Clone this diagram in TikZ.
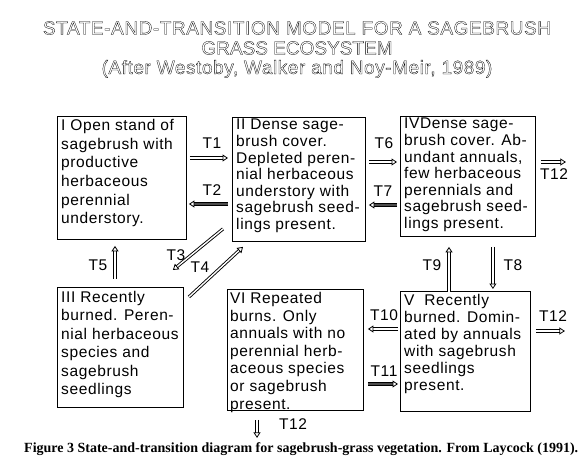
\documentclass[tikz,border=0pt]{standalone}
\usepackage{fontspec}
\setmainfont{Liberation Sans}
\newfontfamily\boxfont[LetterSpace=4]{Liberation Sans}
\newfontfamily\titlefont[LetterSpace=3]{Liberation Sans}
\newfontfamily\titlefontb{Liberation Sans}
\newfontfamily\capfont{Liberation Serif}
\usetikzlibrary{arrows.meta,calc}
\newcommand{\outlinetext}[1]{\special{pdf:literal direct 1 Tr 0.3 w}#1\special{pdf:literal direct 0 Tr}}
\tikzset{
  statebox/.style={draw=black, line width=0.9pt, inner sep=0pt, anchor=north west},
  boxtext/.style={inner sep=0pt, anchor=north west, align=left, font=\boxfont\fontsize{15.5}{17}\selectfont},
  lbl/.style={inner sep=0pt, font=\boxfont\fontsize{15.5}{17}\selectfont},
  openarr/.style={line width=0.9pt, double=white, double distance=1.4pt, -{Triangle[open, length=5.5pt, width=7pt, line width=0.8pt]}},
  darkarr/.style={line width=0.8pt, double=black!70, double distance=1.5pt, -{Triangle[open, length=5.5pt, width=7pt, line width=0.8pt]}},
  titletext/.style={inner sep=0pt, font=\titlefont\fontsize{19}{22}\selectfont}
}
\begin{document}
\begin{tikzpicture}[x=1pt,y=-1pt]
\useasboundingbox (0,0) rectangle (585,462);
% title
\node[titletext] (title1) at (297,28) {\outlinetext{STATE-AND-TRANSITION MODEL FOR A SAGEBRUSH}};
\node[titletext, font=\titlefontb\fontsize{19}{22}\selectfont] (title2) at (297,48) {\outlinetext{GRASS ECOSYSTEM}};
\node[titletext] (title3) at (297,69) {\outlinetext{(After Westoby, Walker and Noy-Meir, 1989)}};
% boxes
\node[statebox, minimum width=129pt, minimum height=123pt] (b1) at (57,116) {};
\node[statebox, minimum width=133pt, minimum height=124pt] (b2) at (232,117) {};
\node[statebox, minimum width=135pt, minimum height=120pt] (b4) at (400,116) {};
\node[statebox, minimum width=126pt, minimum height=120pt] (b3) at (57,287) {};
\node[statebox, minimum width=136pt, minimum height=121pt] (b6) at (227,289) {};
\node[statebox, minimum width=130pt, minimum height=120pt] (b5) at (400,291) {};
% box texts
\node[boxtext, font=\boxfont\fontsize{15.5}{18.7}\selectfont] (t1) at ($(b1.north west)+(4,3)$)
 {I Open stand of\\sagebrush with\\productive\\herbaceous\\perennial\\understory.};
\node[boxtext, font=\boxfont\fontsize{15.5}{16.6}\selectfont] (t2) at ($(b2.north west)+(4,2)$)
 {II Dense sage-\\brush cover.\\Depleted peren-\\nial herbaceous\\understory with\\sagebrush seed-\\lings present.};
\node[boxtext, font=\boxfont\fontsize{15.5}{16.6}\selectfont] (t4) at ($(b4.north west)+(4,2)$)
 {IVDense sage-\\brush cover. Ab-\\undant annuals,\\few herbaceous\\perennials and\\sagebrush seed-\\lings present.};
\node[boxtext, font=\boxfont\fontsize{15.5}{18.5}\selectfont] (t3) at ($(b3.north west)+(4,4)$)
 {III Recently\\burned. Peren-\\nial herbaceous\\species and\\sagebrush\\seedlings};
\node[boxtext, font=\boxfont\fontsize{15.5}{17.6}\selectfont] (t6) at ($(b6.north west)+(3,3)$)
 {VI Repeated\\burns. Only\\annuals with no\\perennial herb-\\aceous species\\or sagebrush\\present.};
\node[boxtext, font=\boxfont\fontsize{15.5}{17}\selectfont] (t5) at ($(b5.north west)+(4,3)$)
 {V \ Recently\\burned. Domin-\\ated by annuals\\with sagebrush\\seedlings\\present.};
% arrows between boxes
\draw[openarr] ($(b1.north east)+(3,42)$) -- ($(b2.north west)+(-4,41)$);
\draw[darkarr] ($(b2.north west)+(-4,87)$) -- ($(b1.north east)+(2,88)$);
\node[lbl] (lT1) at (212,143) {T1};
\node[lbl] (lT2) at (212,190) {T2};
\draw[openarr] ($(b2.north east)+(3,45)$) -- ($(b4.north west)+(-3,46)$);
\draw[darkarr] ($(b4.north west)+(-3,89)$) -- ($(b2.north east)+(3,88)$);
\node[lbl] (lT6) at (384,143) {T6};
\node[lbl] (lT7) at (383,191) {T7};
\coordinate (e12a) at ($(b4.north east)+(30,46)$);
\draw[openarr] ($(b4.north east)+(5,46)$) -- (e12a);
\node[lbl] (lT12a) at (554,174) {T12};
\draw[openarr] ($(b4.south west)+(49,55)$) -- ($(b4.south west)+(49,10)$);
\draw[openarr] ($(b4.south east)+(-43,10)$) -- ($(b5.north east)+(-38,-2)$);
\node[lbl] (lT9) at (432,265) {T9};
\node[lbl] (lT8) at (513,265) {T8};
\draw[openarr] ($(b3.north west)+(58,-8)$) -- ($(b1.south west)+(58,6)$);
\node[lbl] (lT5) at (98,265) {T5};
\draw[openarr] ($(b2.south west)+(-9,-13)$) -- ($(b3.north east)+(-11,-17)$);
\draw[openarr] ($(b3.north east)+(5,10)$) -- ($(b2.south west)+(11,5)$);
\node[lbl] (lT3) at (176,255) {T3};
\node[lbl] (lT4) at (200,267) {T4};
\draw[openarr] ($(b5.north west)+(-2,38)$) -- ($(b6.north east)+(4,40)$);
\node[lbl] (lT10) at (384,315) {T10};
\draw[darkarr] ($(b6.north east)+(4,95)$) -- ($(b5.north west)+(-2,93)$);
\node[lbl] (lT11) at (384,371) {T11};
\coordinate (e12b) at ($(b5.north east)+(34,40)$);
\draw[openarr] ($(b5.north east)+(5,40)$) -- (e12b);
\node[lbl] (lT12b) at (553,316) {T12};
\coordinate (e12c) at ($(b6.south west)+(30,27)$);
\draw[openarr] ($(b6.south west)+(30,9)$) -- (e12c);
\node[lbl] (lT12c) at (293,424) {T12};
% caption
\node[inner sep=0pt, anchor=west, font=\capfont\bfseries\fontsize{14}{16}\selectfont] (cap) at (24,449)
 {Figure 3 State-and-transition diagram for sagebrush-grass vegetation. From Laycock (1991).};
\end{tikzpicture}
\end{document}
